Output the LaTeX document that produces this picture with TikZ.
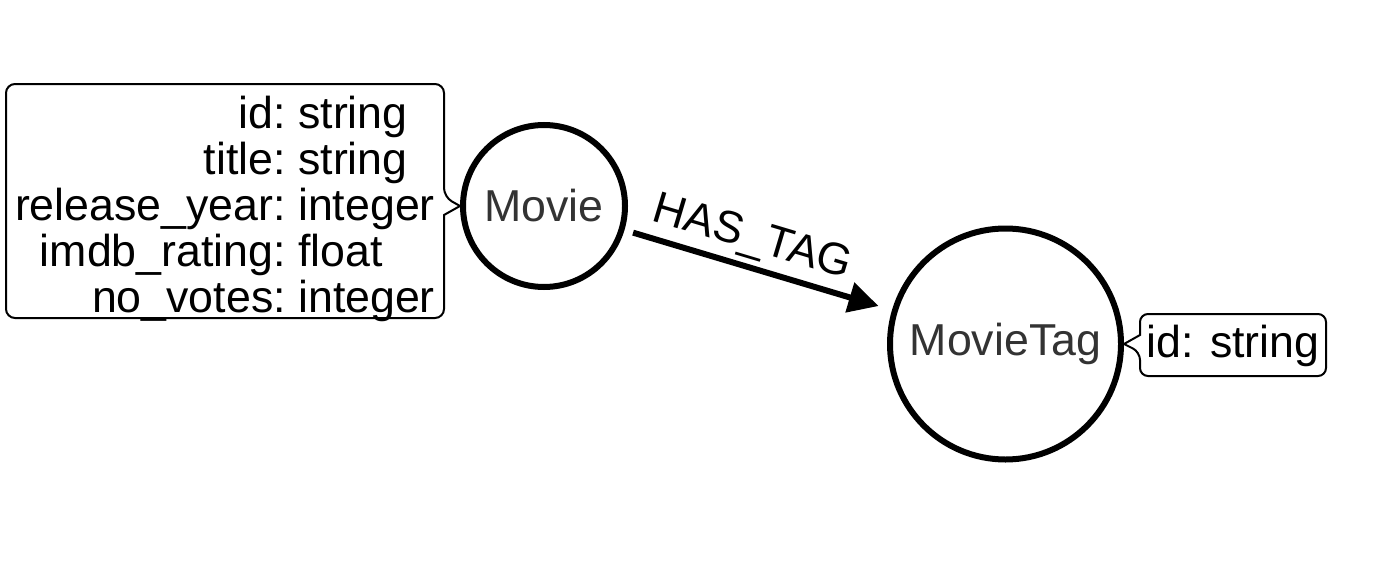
\documentclass[tikz,border=0pt]{standalone}
\usepackage{fontspec}
\setmainfont{Liberation Sans}
\usetikzlibrary{arrows.meta}
\begin{document}
\begin{tikzpicture}[x=1pt,y=-1pt,
  bigfont/.style={font=\fontsize{44.7}{45}\selectfont},
  entity/.style={circle,draw,line width=6pt,text=black!80,bigfont,inner sep=0pt},
  props/.style={inner sep=0pt,bigfont},
  callout/.style={line width=2pt,line join=miter},
  rel/.style={line width=6pt,-{Triangle[length=30pt,width=30pt]},shorten <=9pt,shorten >=14pt}
]
\useasboundingbox (0,0) rectangle (1400,586);
\node[entity,minimum size=162pt] (movie) at (544,206) {Movie};
\node[entity,minimum size=231pt] (tag) at (1005.5,344) {MovieTag};
% Movie properties
\node[props] (mp) at (225,211) {\begin{tabular}{@{}r@{}l@{}}
id:&\ string\\
title:&\ string\\
release\_year:&\ integer\\
imdb\_rating:&\ float\\
no\_votes:&\ integer
\end{tabular}};
\coordinate (mpnw) at (6,84);
\coordinate (mpse) at (444,318);
\draw[callout,rounded corners=9pt] (225,84) -- (mpse|-mpnw) -- (444,197) [sharp corners] -- (movie.west) -- (444,215) [rounded corners=9pt] -- (mpse) -- (mpnw|-mpse) -- (mpnw) -- cycle;
% MovieTag properties
\node[props] (tp) at (1233,346) {id: string};
\coordinate (tpnw) at (1140,314);
\coordinate (tpse) at (1326,376);
\draw[callout,rounded corners=8pt] (1233,314) -- (tpse|-tpnw) -- (tpse) -- (tpnw|-tpse) -- (1140,352) [sharp corners] -- (tag.east) -- (1140,335) [rounded corners=8pt] -- (tpnw) -- cycle;
% relationship
\draw[rel] (movie) -- node[sloped,anchor=base,inner sep=0pt,pos=0.447,bigfont]{\raisebox{17pt}{HAS\_TAG}} (tag);
\end{tikzpicture}
\end{document}
